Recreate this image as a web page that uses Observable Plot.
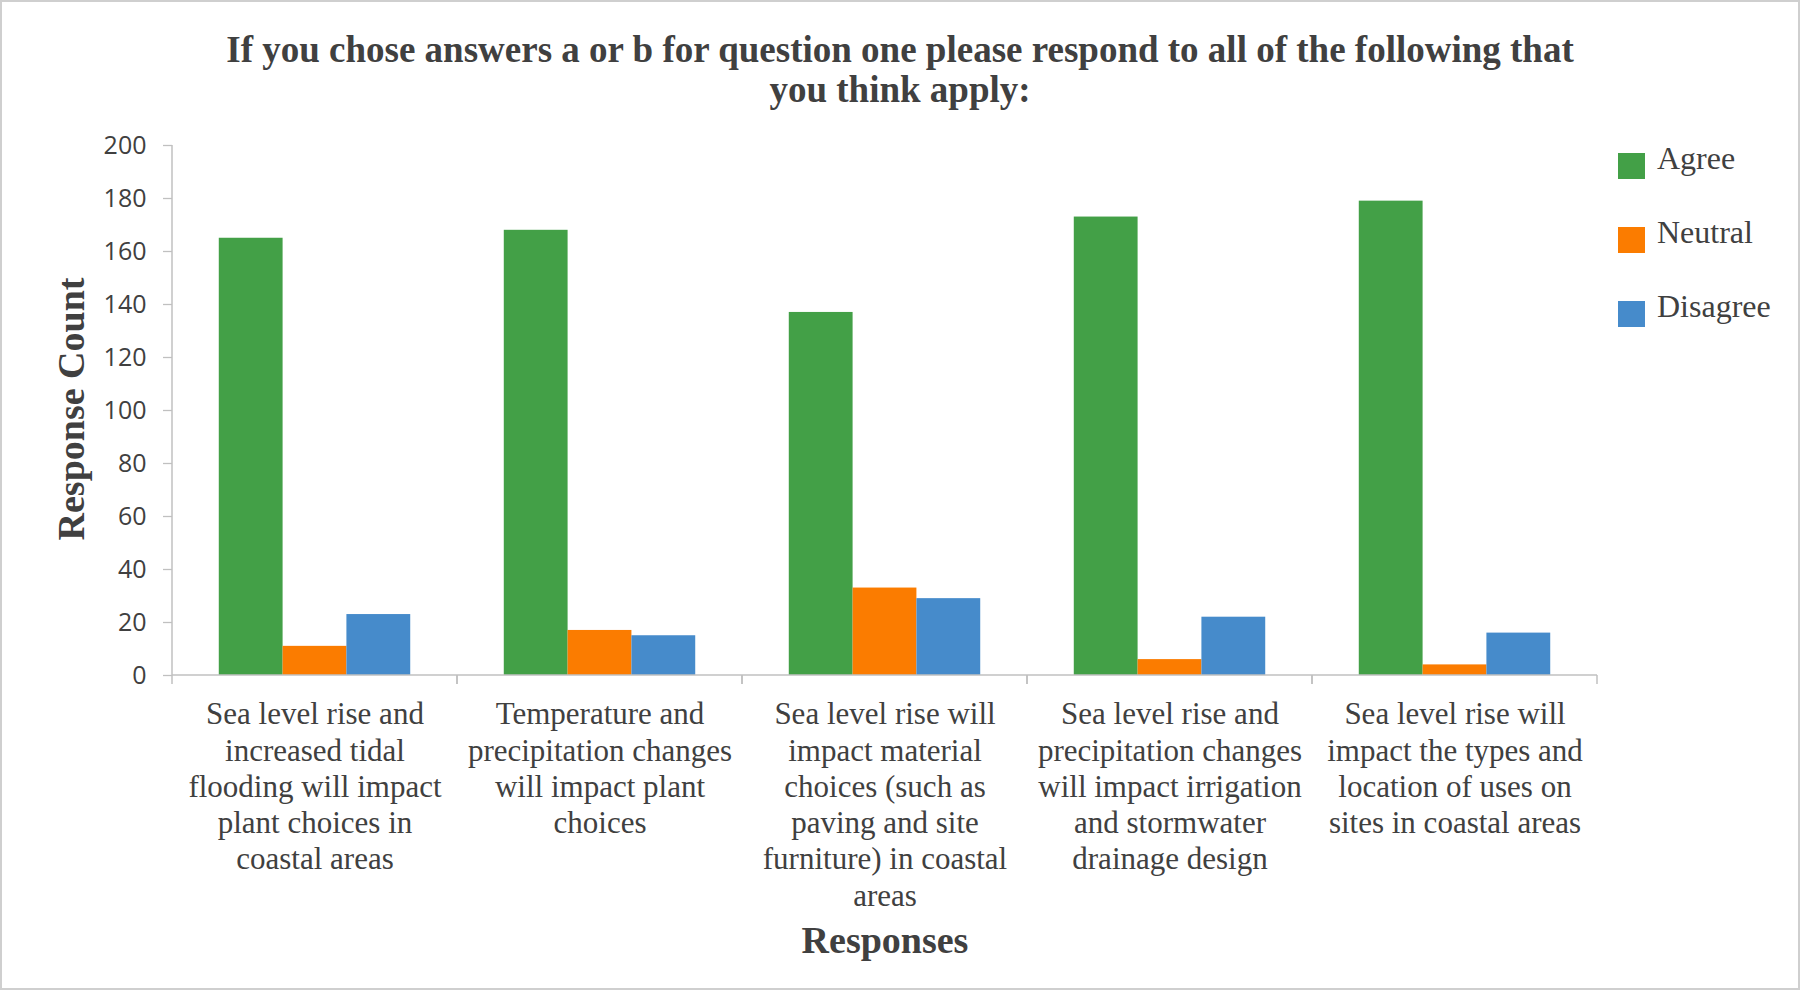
<!DOCTYPE html>
<html>
<head>
<meta charset="utf-8">
<script src="https://cdn.jsdelivr.net/npm/d3@7"></script>
<script src="https://cdn.jsdelivr.net/npm/@observablehq/plot@0.6"></script>
<style>
  html, body { margin: 0; padding: 0; background: #ffffff; }
  #wrap { position: relative; width: 1800px; height: 990px; overflow: hidden; background: #ffffff; }
  #wrap svg { position: absolute; left: 0; top: 0; }
  .border { position: absolute; left: 0; top: 0; width: 1800px; height: 990px; box-sizing: border-box;
            border: 2px solid #cfcfcf; pointer-events: none; }
  .title { position: absolute; left: 0; top: 30px; width: 1800px; text-align: center;
           font-family: "Liberation Serif", "Times New Roman", serif; font-weight: bold;
           font-size: 37px; line-height: 40px; color: #404040; white-space: pre; }
  .ytitle { position: absolute; left: -129px; top: 390px; width: 400px; height: 38px; text-align: center;
            font-family: "Liberation Serif", serif; font-weight: bold; font-size: 38px; line-height: 38px;
            color: #404040; transform: rotate(-90deg); transform-origin: 50% 50%; white-space: nowrap; }
  .xtitle { position: absolute; left: 685px; top: 921px; width: 400px; text-align: center;
            font-family: "Liberation Serif", serif; font-weight: bold; font-size: 38px; line-height: 38px;
            color: #404040; white-space: nowrap; }
  .lg-sw { position: absolute; width: 27px; height: 26px; }
  .lg-tx { position: absolute; font-family: "Liberation Serif", serif; font-size: 32px; line-height: 32px;
           color: #404040; white-space: nowrap; }
</style>
</head>
<body>
<div id="wrap"></div>
<script>
// ---- data ----
const title = "If you chose answers a or b for question one please respond to all of the following that\nyou think apply:";
const yTitle = "Response Count";
const xTitle = "Responses";

const categories = [
  "Sea level rise and increased tidal flooding will impact plant choices in coastal areas",
  "Temperature and precipitation changes will impact plant choices",
  "Sea level rise will impact material choices (such as paving and site furniture) in coastal areas",
  "Sea level rise and precipitation changes will impact irrigation and stormwater drainage design",
  "Sea level rise will impact the types and location of uses on sites in coastal areas"
];
const tickLabels = [
  "Sea level rise and\nincreased tidal\nflooding will impact\nplant choices in\ncoastal areas",
  "Temperature and\nprecipitation changes\nwill impact plant\nchoices",
  "Sea level rise will\nimpact material\nchoices (such as\npaving and site\nfurniture) in coastal\nareas",
  "Sea level rise and\nprecipitation changes\nwill impact irrigation\nand stormwater\ndrainage design",
  "Sea level rise will\nimpact the types and\nlocation of uses on\nsites in coastal areas"
];
const series = ["Agree", "Neutral", "Disagree"];
const agree    = [165, 168, 137, 173, 179];
const neutral  = [11, 17, 33, 6, 4];
const disagree = [23, 15, 29, 22, 16];
const colors = ["#43a047", "#fb7c00", "#468bcb"];
const yTicks = [0, 20, 40, 60, 80, 100, 120, 140, 160, 180, 200];

// ---- table ----
const seriesValues = {Agree: agree, Neutral: neutral, Disagree: disagree};
const table = categories.flatMap((c, i) =>
  series.map(s => ({category: c, series: s, value: seriesValues[s][i]})));

const axisColor = "#c0c0c0";
const textColor = "#404040";

// baseline, category boundary ticks and the y-axis line (rendered in each facet)
let facetCall = 0;
function axisLines(index, scales, values, dims) {
  const k = facetCall++ % categories.length;
  const ns = "http://www.w3.org/2000/svg";
  const g = document.createElementNS(ns, "g");
  const {y} = scales;
  const left = dims.marginLeft;
  const right = dims.width - dims.marginRight;
  const y0 = y(0);
  const yTop = y(yTicks[yTicks.length - 1]);
  const line = (x1, y1, x2, y2) => {
    const l = document.createElementNS(ns, "line");
    l.setAttribute("x1", x1); l.setAttribute("y1", y1);
    l.setAttribute("x2", x2); l.setAttribute("y2", y2);
    l.setAttribute("stroke", axisColor);
    l.setAttribute("stroke-width", 1.5);
    g.appendChild(l);
  };
  line(left, y0, right, y0);
  line(left, y0, left, y0 + 9);
  line(right, y0, right, y0 + 9);
  if (k === 0) line(left, yTop, left, y0);
  return g;
}

const chart = Plot.plot({
  width: 1800,
  height: 990,
  marginTop: 145,
  marginBottom: 315,
  marginLeft: 172,
  marginRight: 203,
  style: {fontFamily: "'Liberation Serif', serif", background: "transparent", overflow: "visible"},
  fx: {domain: categories, padding: 0, round: false},
  x: {domain: series, paddingInner: 0, paddingOuter: 0.733, round: false, axis: null},
  y: {domain: [0, 200], axis: null},
  color: {domain: series, range: colors},
  marks: [
    Plot.barY(table, {fx: "category", x: "series", y: "value", fill: "series"}),
    Plot.axisY({
      ticks: yTicks, tickSize: 9, tickPadding: 17, stroke: axisColor, strokeWidth: 1.3,
      fill: textColor, fontSize: 25, fontFamily: "'Open Sans', sans-serif",
      tickFormat: d => String(d), label: null
    }),
    Plot.axisFx({
      anchor: "bottom", tickSize: 0, tickPadding: 23, fontSize: 31, lineHeight: 1.17,
      fill: textColor, fontFamily: "'Liberation Serif', serif", label: null,
      tickFormat: d => tickLabels[categories.indexOf(d)]
    }),
    axisLines
  ]
});

const wrap = document.getElementById("wrap");
wrap.appendChild(chart);

const t = document.createElement("div");
t.className = "title"; t.textContent = title; wrap.appendChild(t);
const yt = document.createElement("div");
yt.className = "ytitle"; yt.textContent = yTitle; wrap.appendChild(yt);
const xt = document.createElement("div");
xt.className = "xtitle"; xt.textContent = xTitle; wrap.appendChild(xt);

series.forEach((s, i) => {
  const sw = document.createElement("div");
  sw.className = "lg-sw";
  sw.style.left = "1618px";
  sw.style.top = (153 + i * 74) + "px";
  sw.style.background = colors[i];
  wrap.appendChild(sw);
  const tx = document.createElement("div");
  tx.className = "lg-tx";
  tx.style.left = "1657px";
  tx.style.top = (142 + i * 74) + "px";
  tx.textContent = s;
  wrap.appendChild(tx);
});

const border = document.createElement("div");
border.className = "border"; wrap.appendChild(border);
</script>
</body>
</html>
